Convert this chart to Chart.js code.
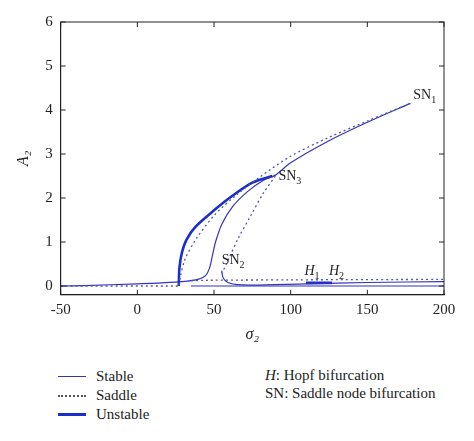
<!DOCTYPE html>
<html><head><meta charset="utf-8">
<script src="https://cdn.jsdelivr.net/npm/chart.js@4"></script>
<style>
body{margin:0;background:#fff;font-family:'Liberation Serif',serif;}
#wrap{position:relative;width:474px;height:346px;}
.leg{position:absolute;font-size:15px;color:#222;}
.row{display:flex;align-items:center;height:19px;}
.sw{width:28px;margin-right:10px;border-top:1px solid #3333bb;}
</style></head><body>
<div id="wrap"><canvas id="c"></canvas></div>
<div class="leg" style="left:58px;top:367px">
 <div class="row"><span class="sw"></span>Stable</div>
 <div class="row"><span class="sw" style="border-top:2px dotted #555"></span>Saddle</div>
 <div class="row"><span class="sw" style="border-top:3px solid #1a2ecc"></span>Unstable</div>
</div>
<div class="leg" style="left:265px;top:366px;line-height:18px">
 <div><i>H</i>: Hopf bifurcation</div>
 <div>SN: Saddle node bifurcation</div>
</div>
<script>
// curves: [sigma2, A2]
const stableMain = [[-50,0],[-35,0.01],[0,0.05],[25,0.09],[38,0.14],[44,0.22],[47,0.4],[49,0.7],[51,1.0],[55,1.4],[62,1.8],[72,2.15],[82,2.4],[90,2.52],[100,2.8],[125,3.3],[150,3.72],[178,4.15]];
const stableLowA = [[55,0.35],[56,0.18],[59,0.08],[65,0.03],[75,0.02],[110,0.05],[150,0.08],[200,0.1]];
const stableZero = [[35,0],[200,0]];
const saddleUpper = [[178,4.15],[150,3.75],[125,3.38],[100,2.95],[80,2.48],[65,2.08],[50,1.6],[38,1.05],[31,0.6],[28,0.2],[27,0]];
const saddleMid = [[90,2.5],[82,2.1],[74,1.6],[66,1.1],[60,0.65],[56,0.35],[55,0.3]];
const saddleZero = [[-50,0],[27,0]];
const saddleLow = [[35,0.12],[45,0.13],[100,0.14],[200,0.15]];
const unstableMain = [[27,0],[27.4,0.4],[29,0.75],[32,1.05],[38,1.35],[50,1.72],[62,2.05],[75,2.35],[88,2.5]];
const unstableHopf = [[110,0.07],[127,0.07]];
const xTicks = [-50,0,50,100,150,200];
const yTicks = [0,1,2,3,4,5,6];
const labels = [
  {t:'SN',s:'1',x:180,y:4.25,it:false},
  {t:'SN',s:'3',x:92,y:2.4,it:false},
  {t:'SN',s:'2',x:55,y:0.5,it:false},
  {t:'H',s:'1',x:109,y:0.25,it:true},
  {t:'H',s:'2',x:125,y:0.25,it:true}
];
const pts = a => a.map(p => ({x:p[0], y:p[1]}));
const thin = '#3333bb', thick = '#1a2ecc', dot = '#5555aa';
function ds(d, c, w, dash){ return {data:pts(d), showLine:true, borderColor:c, borderWidth:w, borderDash:dash||[], pointRadius:0, tension:0.3, fill:false}; }

const labelPlugin = {
  id:'lbl',
  afterDraw(chart){
    const ctx = chart.ctx, xs = chart.scales.x, ys = chart.scales.y, a = chart.chartArea;
    ctx.save();
    // box frame with inward ticks
    ctx.strokeStyle = '#222'; ctx.lineWidth = 1;
    ctx.strokeRect(a.left, a.top, a.right - a.left, a.bottom - a.top);
    ctx.beginPath();
    xTicks.forEach(v => { const p = xs.getPixelForValue(v);
      ctx.moveTo(p, a.bottom); ctx.lineTo(p, a.bottom - 5); ctx.moveTo(p, a.top); ctx.lineTo(p, a.top + 5); });
    yTicks.forEach(v => { const p = ys.getPixelForValue(v);
      ctx.moveTo(a.left, p); ctx.lineTo(a.left + 5, p); ctx.moveTo(a.right, p); ctx.lineTo(a.right - 5, p); });
    ctx.stroke();
    ctx.fillStyle = '#222'; ctx.textBaseline = 'alphabetic';
    labels.forEach(l => {
      const px = xs.getPixelForValue(l.x), py = ys.getPixelForValue(l.y);
      ctx.font = (l.it?'italic ':'') + '14px "Liberation Serif"';
      ctx.fillText(l.t, px, py);
      const w = ctx.measureText(l.t).width;
      ctx.font = '10px "Liberation Serif"';
      ctx.fillText(l.s, px + w, py + 4);
    });
    ctx.restore();
  }
};

new Chart(document.getElementById('c'), {
  type:'scatter',
  data:{datasets:[
    ds(saddleUpper, dot, 1.3, [2,3]), ds(saddleMid, dot, 1.3, [2,3]),
    ds(saddleZero, dot, 1.3, [2,3]), ds(saddleLow, dot, 1.3, [2,3]),
    ds(stableMain, thin, 1.2), ds(stableLowA, thin, 1.2), ds(stableZero, thin, 1.2),
    ds(unstableMain, thick, 2.6), ds(unstableHopf, thick, 2.6)
  ]},
  plugins:[labelPlugin],
  options:{
    responsive:true, maintainAspectRatio:false, animation:false,
    layout:{padding:{left:10,right:30,top:22,bottom:2}},
    plugins:{legend:{display:false}, tooltip:{enabled:false}},
    scales:{
      x:{type:'linear', min:-50, max:200, afterBuildTicks:s => { s.ticks = xTicks.map(v => ({value:v})); },
         grid:{display:false, drawTicks:false}, border:{color:'#222'},
         ticks:{color:'#222', font:{family:'Liberation Serif', size:15}, padding:6},
         title:{display:true, text:'σ₂', color:'#222', font:{family:'Liberation Serif', size:16, style:'italic'}, padding:0}},
      y:{type:'linear', min:-0.2, max:6, afterBuildTicks:s => { s.ticks = yTicks.map(v => ({value:v})); },
         grid:{display:false, drawTicks:false}, border:{color:'#222'},
         ticks:{color:'#222', font:{family:'Liberation Serif', size:15}, padding:8},
         title:{display:true, text:'A₂', color:'#222', font:{family:'Liberation Serif', size:16, style:'italic'}}}
    }
  }
});
</script></body></html>
